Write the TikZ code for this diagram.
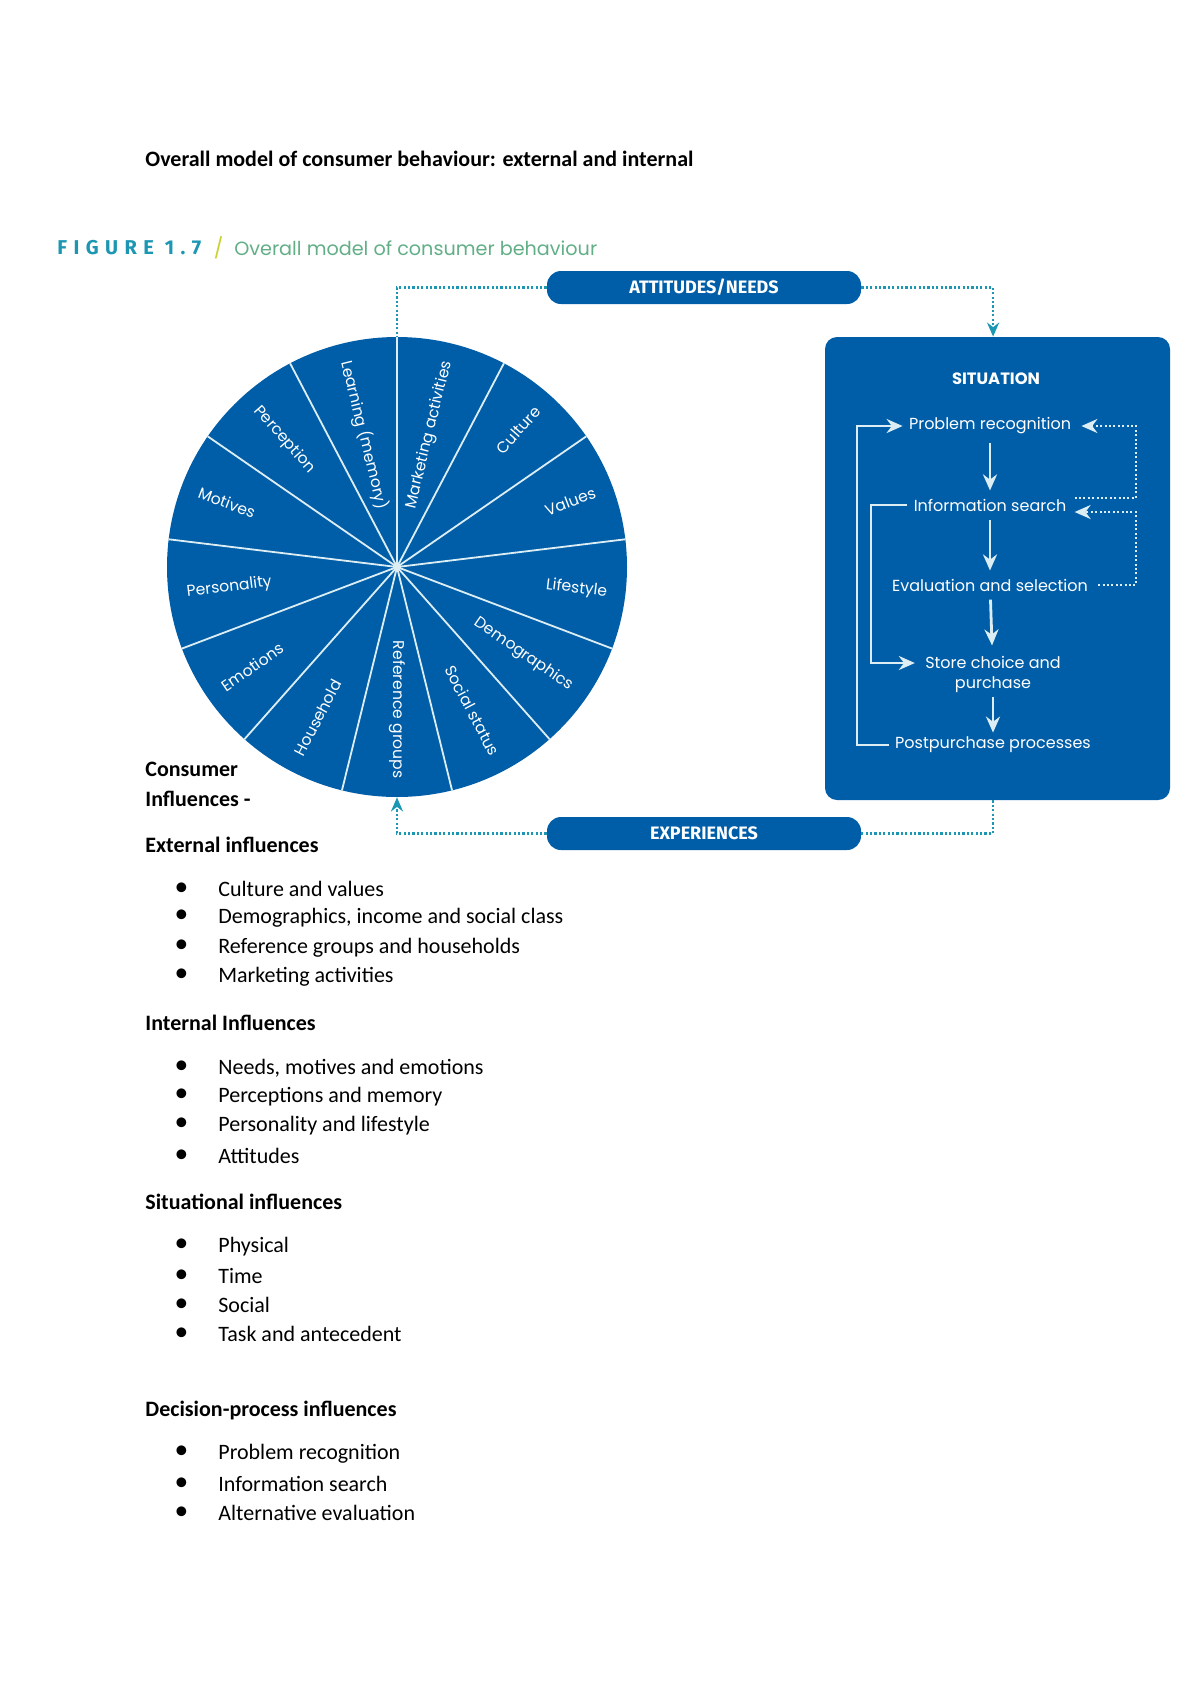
\documentclass[tikz,border=0pt]{standalone}
\usepackage{fontspec}
\setmainfont{Carlito}
\newfontfamily\wheelfont{Poppins}
\newfontfamily\barfont{Fira Sans}
\usetikzlibrary{positioning, arrows.meta, calc}
\definecolor{wheelblue}{HTML}{005EA8}
\definecolor{linkteal}{HTML}{1C97B3}
\definecolor{figgreen}{HTML}{62AF87}
\definecolor{slashyellow}{HTML}{C9D22C}
\definecolor{paleline}{HTML}{DCEEF3}
\newcommand{\bodyfont}{\fontsize{11}{13}\selectfont}
\newcommand{\bul}{\llap{\raisebox{0.1ex}{\scalebox{1.25}{\textbullet}}\hspace{15pt}}}
\tikzset{
  head/.style={anchor=west, inner sep=0, font=\bodyfont\bfseries},
  item/.style={anchor=west, inner sep=0, font=\bodyfont},
  bar/.style={
    fill=wheelblue,
    rounded corners=7pt,
    minimum width=157pt,
    minimum height=16.5pt,
    inner sep=0,
    text=white,
    font=\barfont\bfseries\fontsize{9}{10}\selectfont
  },
  stage/.style={text=white, align=center, inner sep=1pt, font=\wheelfont\fontsize{8}{10}\selectfont},
  seg/.style={text=white, inner sep=0, font=\wheelfont\fontsize{7.8}{9}\selectfont},
  spoke/.style={paleline, line width=0.9pt},
  link/.style={linkteal, line width=1.2pt, dash pattern=on 1.1pt off 1.1pt},
  linkarr/.style={link, -{Stealth[length=7pt, width=6pt]}},
  flow/.style={paleline, line width=1.4pt, -{Stealth[length=8pt, width=7pt]}},
  back/.style={paleline, line width=1.2pt, dash pattern=on 1pt off 1.2pt, -{Stealth[length=8pt, width=7pt]}}
}

\begin{document}
\begin{tikzpicture}[x=0.5pt, y=-0.5pt]

  \path[fill=white, use as bounding box] (0,0) rectangle (1200,1698);

  % headings
  \node[head, font=\bodyfont\bfseries] (maintitle) at (145,159)
    {Overall model of consumer behaviour: external and internal};
  \node[anchor=west, inner sep=0, text=linkteal,
        font=\barfont\bfseries\fontsize{10}{12}\selectfont\addfontfeature{LetterSpace=32}] (figno) at (57,248) {FIGURE 1.7};
  \node[right=6pt of figno, inner sep=0, text=slashyellow, font=\wheelfont\fontsize{10}{12}\selectfont] (slash) {/};
  \node[right=5pt of slash, inner sep=0, text=figgreen, font=\wheelfont\fontsize{9.6}{12}\selectfont] (figtitle)
    {Overall model of consumer behaviour};

  % wheel of influences
  \node[circle, fill=wheelblue, minimum size=230pt, inner sep=0] (wheel) at (397,567) {};
  \begin{scope}[shift={(wheel.center)}, y=0.5pt]
    \foreach \k in {0,...,12}
      \draw[spoke] (0,0) -- ({90-360/13*\k}:230);
    \fill[paleline] (0,0) circle (4);
    \foreach \lab [count=\i from 0] in {Marketing activities, Culture, Values, Lifestyle,
        Demographics, Social status, Reference groups, Household, Emotions,
        Personality, Motives, Perception, Learning (memory)}{
      \pgfmathsetmacro\a{90-360/13*(\i+0.5)}
      \ifnum\i<7
        \node[seg, anchor=east, rotate=\a] (seg\i) at (\a:212) {\lab};
      \else
        \node[seg, anchor=west, rotate=\a+180] (seg\i) at (\a:212) {\lab};
      \fi
    }
  \end{scope}

  % situation box
  \node[fill=wheelblue, rounded corners=6pt, minimum width=172.5pt, minimum height=231.5pt, inner sep=0]
    (sitbox) at (997.5,568.5) {};
  \node[stage, font=\wheelfont\bfseries\fontsize{8.2}{10}\selectfont] (sittitle) at (996,379) {SITUATION};
  \node[stage] (pr) at (990,426) {Problem recognition};
  \node[stage] (is) at (990,505) {Information search};
  \node[stage] (es) at (990,585) {Evaluation and selection};
  \node[stage] (sc) at (993,674) {Store choice and\\purchase};
  \node[stage] (pp) at (993,745) {Postpurchase processes};

  \draw[flow, shorten <=3pt, shorten >=3pt] (pr) -- (is);
  \draw[flow, shorten <=3pt, shorten >=3pt] (is) -- (es);
  \draw[flow, shorten <=3pt, shorten >=4pt] (es) -- (sc);
  \draw[flow, shorten <=1pt, shorten >=1pt] (sc) -- (pp);

  \coordinate (outerx) at (857,0);
  \coordinate (innerx) at (871,0);
  \coordinate (rail) at (1136,0);
  \draw[flow] ([xshift=-2pt]pp.west) -- (pp.west -| outerx) |- ([xshift=-2pt]pr.west);
  \draw[flow] ([xshift=-2pt]is.west) -- (is.west -| innerx) |- ([xshift=-4pt, yshift=5.5pt]sc.west);
  \draw[back] ([xshift=3pt, yshift=3.5pt]is.east) -- ([yshift=3.5pt]is.east -| rail) |- ([xshift=4pt]pr.east);
  \draw[back] ([xshift=4pt]es.east) -- (es.east -| rail) |- ([xshift=3pt, yshift=-3.5pt]is.east);

  % bars and dotted links
  \node[bar] (att) at (704,287.5) {ATTITUDES/NEEDS};
  \node[bar] (exp) at (704,833.5) {EXPERIENCES};
  \draw[link] (att.west) -| (wheel.north);
  \draw[linkarr] (att.east) -| ([xshift=-2.2pt]sitbox.north);
  \draw[link] ([xshift=-2.2pt]sitbox.south) |- (exp.east);
  \draw[linkarr] (exp.west) -| (wheel.south);

  % list of influences
  \node[head, align=left, font=\fontsize{11}{15}\selectfont\bfseries] (hcons) at (145,784) {Consumer\\Influences -};
  \node[head] (hext) at (145,845) {External influences};
  \node[item] (ext1) at (218,889) {\bul Culture and values};
  \node[item] (ext2) at (218,918) {\bul Demographics, income and social class};
  \node[item] (ext3) at (218,948) {\bul Reference groups and households};
  \node[item] (ext4) at (218,977) {\bul Marketing activities};
  \node[head] (hint) at (145,1023) {Internal Influences};
  \node[item] (int1) at (218,1068) {\bul Needs, motives and emotions};
  \node[item] (int2) at (218,1097) {\bul Perceptions and memory};
  \node[item] (int3) at (218,1126) {\bul Personality and lifestyle};
  \node[item] (int4) at (218,1156) {\bul Attitudes};
  \node[head] (hsit) at (145,1202) {Situational influences};
  \node[item] (sit1) at (218,1247) {\bul Physical};
  \node[item] (sit2) at (218,1276) {\bul Time};
  \node[item] (sit3) at (218,1305) {\bul Social};
  \node[item] (sit4) at (218,1334) {\bul Task and antecedent};
  \node[head] (hdec) at (145,1410) {Decision-process influences};
  \node[item] (dec1) at (218,1454) {\bul Problem recognition};
  \node[item] (dec2) at (218,1484) {\bul Information search};
  \node[item] (dec3) at (218,1513) {\bul Alternative evaluation};

\end{tikzpicture}
\end{document}
